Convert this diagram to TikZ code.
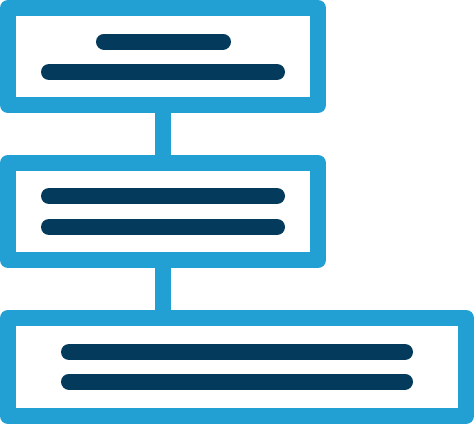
\documentclass[tikz,border=0pt]{standalone}
\usepackage{tikz}
\usetikzlibrary{positioning}

\definecolor{frameblue}{HTML}{22A0D3}
\definecolor{barnavy}{HTML}{043A5B}

\begin{document}
\begin{tikzpicture}[%
x={(1pt,0pt)},
y={(0pt,-1pt)},
box/.style={draw=frameblue,line width=16pt,line join=round,rectangle,inner sep=0pt,minimum height=97pt},
link/.style={draw=frameblue,line width=16pt,line cap=butt},
bar/.style={draw=barnavy,line width=16pt,line cap=round},
]
\useasboundingbox (0,0) rectangle (474,424);

%Kaesten
\node[box,minimum width=310pt](top) at (163,56.5){};
\node[box,minimum width=310pt](mid) at (163,211.5){};
\node[box,minimum width=458pt,minimum height=98pt](low) at (237,367){};

%Verbindungen
\draw[link] (top.south) -- (mid.north);
\draw[link] (mid.south) -- (mid.south |- low.north);

%Balken
\draw[bar] (104,41.5) -- (223,41.5);
\draw[bar] (49,72) -- (277,72);
\draw[bar] (49,196) -- (277,196);
\draw[bar] (49,227) -- (277,227);
\draw[bar] (69,352) -- (405,352);
\draw[bar] (69,381.5) -- (405,381.5);

\end{tikzpicture}
\end{document}
